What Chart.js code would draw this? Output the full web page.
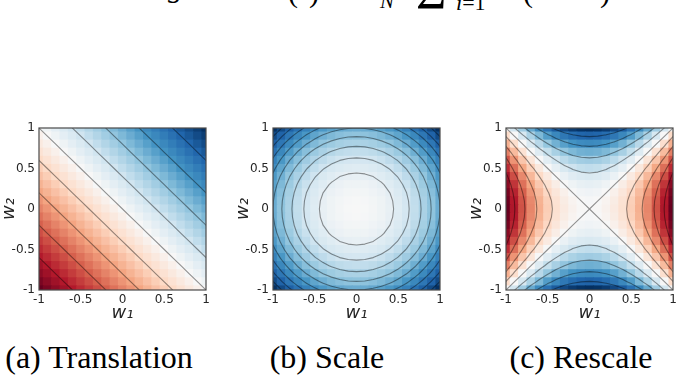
<!DOCTYPE html>
<html>
<head>
<meta charset="utf-8">
<script src="https://cdn.jsdelivr.net/npm/chart.js@4.4.0/dist/chart.umd.min.js"></script>
<style>
  body { margin: 0; width: 681px; height: 375px; overflow: hidden; background: #fff; position: relative; font-family: "Liberation Serif", serif; }
  .panel { position: absolute; top: 112px; width: 214px; height: 213px; }
  .cap { position: absolute; top: 341px; font-size: 32px; line-height: 1; white-space: nowrap; transform: translateX(-50%); color: #000; font-family: "Liberation Serif", serif; }
  .eq { position: absolute; white-space: nowrap; line-height: 1; color: #000; }
</style>
</head>
<body>
<!-- bottom of the equation that is cut by the top edge -->
<span class="eq" style="left:168px; top:-28px; font-size:30px; font-style:italic">g</span>
<span class="eq" style="left:288px; top:-23px; font-size:30px">(</span>
<span class="eq" style="left:309px; top:-23px; font-size:30px">)</span>
<span class="eq" style="left:380px; top:-9px; font-size:21px; font-style:italic">N</span>
<span class="eq" style="left:416px; top:-34px; font-size:52px">Σ</span>
<span class="eq" style="left:456px; top:-8px; font-size:22px"><i>i</i>=1</span>
<span class="eq" style="left:523px; top:-23px; font-size:30px">(</span>
<span class="eq" style="left:600px; top:-23px; font-size:30px">)</span>

<canvas id="chartA" class="panel" style="left:0px"></canvas>
<canvas id="chartB" class="panel" style="left:234px"></canvas>
<canvas id="chartC" class="panel" style="left:467px"></canvas>

<div id="capA" class="cap" style="left:99px"></div>
<div id="capB" class="cap" style="left:327px"></div>
<div id="capC" class="cap" style="left:581px"></div>

<script>
// axis ticks and grid nodes
const axisTicks = [-1, -0.5, 0, 0.5, 1];
const gridW1 = [-1, -0.9, -0.8, -0.7, -0.6, -0.5, -0.4, -0.3, -0.2, -0.1, 0, 0.1, 0.2, 0.3, 0.4, 0.5, 0.6, 0.7, 0.8, 0.9, 1];
const gridW2 = [1, 0.9, 0.8, 0.7, 0.6, 0.5, 0.4, 0.3, 0.2, 0.1, 0, -0.1, -0.2, -0.3, -0.4, -0.5, -0.6, -0.7, -0.8, -0.9, -1];

const captions = ["(a) Translation", "(b) Scale", "(c) Rescale"];

// (a) Translation surface, rows from w2 = 1 down to w2 = -1
const translationGrid = [
  [0,.1,.2,.3,.4,.5,.6,.7,.8,.9,1,1.1,1.2,1.3,1.4,1.5,1.6,1.7,1.8,1.9,2],
  [-.1,0,.1,.2,.3,.4,.5,.6,.7,.8,.9,1,1.1,1.2,1.3,1.4,1.5,1.6,1.7,1.8,1.9],
  [-.2,-.1,0,.1,.2,.3,.4,.5,.6,.7,.8,.9,1,1.1,1.2,1.3,1.4,1.5,1.6,1.7,1.8],
  [-.3,-.2,-.1,0,.1,.2,.3,.4,.5,.6,.7,.8,.9,1,1.1,1.2,1.3,1.4,1.5,1.6,1.7],
  [-.4,-.3,-.2,-.1,0,.1,.2,.3,.4,.5,.6,.7,.8,.9,1,1.1,1.2,1.3,1.4,1.5,1.6],
  [-.5,-.4,-.3,-.2,-.1,0,.1,.2,.3,.4,.5,.6,.7,.8,.9,1,1.1,1.2,1.3,1.4,1.5],
  [-.6,-.5,-.4,-.3,-.2,-.1,0,.1,.2,.3,.4,.5,.6,.7,.8,.9,1,1.1,1.2,1.3,1.4],
  [-.7,-.6,-.5,-.4,-.3,-.2,-.1,0,.1,.2,.3,.4,.5,.6,.7,.8,.9,1,1.1,1.2,1.3],
  [-.8,-.7,-.6,-.5,-.4,-.3,-.2,-.1,0,.1,.2,.3,.4,.5,.6,.7,.8,.9,1,1.1,1.2],
  [-.9,-.8,-.7,-.6,-.5,-.4,-.3,-.2,-.1,0,.1,.2,.3,.4,.5,.6,.7,.8,.9,1,1.1],
  [-1,-.9,-.8,-.7,-.6,-.5,-.4,-.3,-.2,-.1,0,.1,.2,.3,.4,.5,.6,.7,.8,.9,1],
  [-1.1,-1,-.9,-.8,-.7,-.6,-.5,-.4,-.3,-.2,-.1,0,.1,.2,.3,.4,.5,.6,.7,.8,.9],
  [-1.2,-1.1,-1,-.9,-.8,-.7,-.6,-.5,-.4,-.3,-.2,-.1,0,.1,.2,.3,.4,.5,.6,.7,.8],
  [-1.3,-1.2,-1.1,-1,-.9,-.8,-.7,-.6,-.5,-.4,-.3,-.2,-.1,0,.1,.2,.3,.4,.5,.6,.7],
  [-1.4,-1.3,-1.2,-1.1,-1,-.9,-.8,-.7,-.6,-.5,-.4,-.3,-.2,-.1,0,.1,.2,.3,.4,.5,.6],
  [-1.5,-1.4,-1.3,-1.2,-1.1,-1,-.9,-.8,-.7,-.6,-.5,-.4,-.3,-.2,-.1,0,.1,.2,.3,.4,.5],
  [-1.6,-1.5,-1.4,-1.3,-1.2,-1.1,-1,-.9,-.8,-.7,-.6,-.5,-.4,-.3,-.2,-.1,0,.1,.2,.3,.4],
  [-1.7,-1.6,-1.5,-1.4,-1.3,-1.2,-1.1,-1,-.9,-.8,-.7,-.6,-.5,-.4,-.3,-.2,-.1,0,.1,.2,.3],
  [-1.8,-1.7,-1.6,-1.5,-1.4,-1.3,-1.2,-1.1,-1,-.9,-.8,-.7,-.6,-.5,-.4,-.3,-.2,-.1,0,.1,.2],
  [-1.9,-1.8,-1.7,-1.6,-1.5,-1.4,-1.3,-1.2,-1.1,-1,-.9,-.8,-.7,-.6,-.5,-.4,-.3,-.2,-.1,0,.1],
  [-2,-1.9,-1.8,-1.7,-1.6,-1.5,-1.4,-1.3,-1.2,-1.1,-1,-.9,-.8,-.7,-.6,-.5,-.4,-.3,-.2,-.1,0]
];

// (b) Scale surface
const scaleGrid = [
  [2,1.81,1.64,1.49,1.36,1.25,1.16,1.09,1.04,1.01,1,1.01,1.04,1.09,1.16,1.25,1.36,1.49,1.64,1.81,2],
  [1.81,1.62,1.45,1.3,1.17,1.06,.97,.9,.85,.82,.81,.82,.85,.9,.97,1.06,1.17,1.3,1.45,1.62,1.81],
  [1.64,1.45,1.28,1.13,1,.89,.8,.73,.68,.65,.64,.65,.68,.73,.8,.89,1,1.13,1.28,1.45,1.64],
  [1.49,1.3,1.13,.98,.85,.74,.65,.58,.53,.5,.49,.5,.53,.58,.65,.74,.85,.98,1.13,1.3,1.49],
  [1.36,1.17,1,.85,.72,.61,.52,.45,.4,.37,.36,.37,.4,.45,.52,.61,.72,.85,1,1.17,1.36],
  [1.25,1.06,.89,.74,.61,.5,.41,.34,.29,.26,.25,.26,.29,.34,.41,.5,.61,.74,.89,1.06,1.25],
  [1.16,.97,.8,.65,.52,.41,.32,.25,.2,.17,.16,.17,.2,.25,.32,.41,.52,.65,.8,.97,1.16],
  [1.09,.9,.73,.58,.45,.34,.25,.18,.13,.1,.09,.1,.13,.18,.25,.34,.45,.58,.73,.9,1.09],
  [1.04,.85,.68,.53,.4,.29,.2,.13,.08,.05,.04,.05,.08,.13,.2,.29,.4,.53,.68,.85,1.04],
  [1.01,.82,.65,.5,.37,.26,.17,.1,.05,.02,.01,.02,.05,.1,.17,.26,.37,.5,.65,.82,1.01],
  [1,.81,.64,.49,.36,.25,.16,.09,.04,.01,0,.01,.04,.09,.16,.25,.36,.49,.64,.81,1],
  [1.01,.82,.65,.5,.37,.26,.17,.1,.05,.02,.01,.02,.05,.1,.17,.26,.37,.5,.65,.82,1.01],
  [1.04,.85,.68,.53,.4,.29,.2,.13,.08,.05,.04,.05,.08,.13,.2,.29,.4,.53,.68,.85,1.04],
  [1.09,.9,.73,.58,.45,.34,.25,.18,.13,.1,.09,.1,.13,.18,.25,.34,.45,.58,.73,.9,1.09],
  [1.16,.97,.8,.65,.52,.41,.32,.25,.2,.17,.16,.17,.2,.25,.32,.41,.52,.65,.8,.97,1.16],
  [1.25,1.06,.89,.74,.61,.5,.41,.34,.29,.26,.25,.26,.29,.34,.41,.5,.61,.74,.89,1.06,1.25],
  [1.36,1.17,1,.85,.72,.61,.52,.45,.4,.37,.36,.37,.4,.45,.52,.61,.72,.85,1,1.17,1.36],
  [1.49,1.3,1.13,.98,.85,.74,.65,.58,.53,.5,.49,.5,.53,.58,.65,.74,.85,.98,1.13,1.3,1.49],
  [1.64,1.45,1.28,1.13,1,.89,.8,.73,.68,.65,.64,.65,.68,.73,.8,.89,1,1.13,1.28,1.45,1.64],
  [1.81,1.62,1.45,1.3,1.17,1.06,.97,.9,.85,.82,.81,.82,.85,.9,.97,1.06,1.17,1.3,1.45,1.62,1.81],
  [2,1.81,1.64,1.49,1.36,1.25,1.16,1.09,1.04,1.01,1,1.01,1.04,1.09,1.16,1.25,1.36,1.49,1.64,1.81,2]
];

// (c) Rescale surface (saddle)
const rescaleGrid = [
  [0,.19,.36,.51,.64,.75,.84,.91,.96,.99,1,.99,.96,.91,.84,.75,.64,.51,.36,.19,0],
  [-.19,0,.17,.32,.45,.56,.65,.72,.77,.8,.81,.8,.77,.72,.65,.56,.45,.32,.17,0,-.19],
  [-.36,-.17,0,.15,.28,.39,.48,.55,.6,.63,.64,.63,.6,.55,.48,.39,.28,.15,0,-.17,-.36],
  [-.51,-.32,-.15,0,.13,.24,.33,.4,.45,.48,.49,.48,.45,.4,.33,.24,.13,0,-.15,-.32,-.51],
  [-.64,-.45,-.28,-.13,0,.11,.2,.27,.32,.35,.36,.35,.32,.27,.2,.11,0,-.13,-.28,-.45,-.64],
  [-.75,-.56,-.39,-.24,-.11,0,.09,.16,.21,.24,.25,.24,.21,.16,.09,0,-.11,-.24,-.39,-.56,-.75],
  [-.84,-.65,-.48,-.33,-.2,-.09,0,.07,.12,.15,.16,.15,.12,.07,0,-.09,-.2,-.33,-.48,-.65,-.84],
  [-.91,-.72,-.55,-.4,-.27,-.16,-.07,0,.05,.08,.09,.08,.05,0,-.07,-.16,-.27,-.4,-.55,-.72,-.91],
  [-.96,-.77,-.6,-.45,-.32,-.21,-.12,-.05,0,.03,.04,.03,0,-.05,-.12,-.21,-.32,-.45,-.6,-.77,-.96],
  [-.99,-.8,-.63,-.48,-.35,-.24,-.15,-.08,-.03,0,.01,0,-.03,-.08,-.15,-.24,-.35,-.48,-.63,-.8,-.99],
  [-1,-.81,-.64,-.49,-.36,-.25,-.16,-.09,-.04,-.01,0,-.01,-.04,-.09,-.16,-.25,-.36,-.49,-.64,-.81,-1],
  [-.99,-.8,-.63,-.48,-.35,-.24,-.15,-.08,-.03,0,.01,0,-.03,-.08,-.15,-.24,-.35,-.48,-.63,-.8,-.99],
  [-.96,-.77,-.6,-.45,-.32,-.21,-.12,-.05,0,.03,.04,.03,0,-.05,-.12,-.21,-.32,-.45,-.6,-.77,-.96],
  [-.91,-.72,-.55,-.4,-.27,-.16,-.07,0,.05,.08,.09,.08,.05,0,-.07,-.16,-.27,-.4,-.55,-.72,-.91],
  [-.84,-.65,-.48,-.33,-.2,-.09,0,.07,.12,.15,.16,.15,.12,.07,0,-.09,-.2,-.33,-.48,-.65,-.84],
  [-.75,-.56,-.39,-.24,-.11,0,.09,.16,.21,.24,.25,.24,.21,.16,.09,0,-.11,-.24,-.39,-.56,-.75],
  [-.64,-.45,-.28,-.13,0,.11,.2,.27,.32,.35,.36,.35,.32,.27,.2,.11,0,-.13,-.28,-.45,-.64],
  [-.51,-.32,-.15,0,.13,.24,.33,.4,.45,.48,.49,.48,.45,.4,.33,.24,.13,0,-.15,-.32,-.51],
  [-.36,-.17,0,.15,.28,.39,.48,.55,.6,.63,.64,.63,.6,.55,.48,.39,.28,.15,0,-.17,-.36],
  [-.19,0,.17,.32,.45,.56,.65,.72,.77,.8,.81,.8,.77,.72,.65,.56,.45,.32,.17,0,-.19],
  [0,.19,.36,.51,.64,.75,.84,.91,.96,.99,1,.99,.96,.91,.84,.75,.64,.51,.36,.19,0]
];

// contour levels
const translationLevels = [-1.6, -1.2, -0.8, -0.4, 0, 0.4, 0.8, 1.2, 1.6];
const scaleLevels = [0.2, 0.4, 0.6, 0.8, 1, 1.2, 1.4, 1.6, 1.8];
const rescaleLevels = [-0.8, -0.6, -0.4, -0.2, 0, 0.2, 0.4, 0.6, 0.8];

// colour limits (red = low, blue = high)
const translationRange = [-2, 2];
const scaleRange = [-2, 2];
const rescaleRange = [-1, 1];

// RdBu colormap
const RDBU = [[103,0,31],[178,24,43],[214,96,77],[244,165,130],[253,219,199],[247,247,247],
              [209,229,240],[146,197,222],[67,147,195],[33,102,172],[5,48,97]];

function rdbu(t) {
    t = Math.max(0, Math.min(1, t));
    const p = t * 10;
    const i = Math.min(9, Math.floor(p));
    const f = p - i;
    const a = RDBU[i], b = RDBU[i + 1];
    const c = [0, 1, 2].map(k => Math.round(a[k] + (b[k] - a[k]) * f));
    return "rgb(" + c.join(",") + ")";
}

function cells(grid) {
    const pts = [];
    gridW2.forEach((w2, r) => {
        gridW1.forEach((w1, c) => pts.push({ x: w1, y: w2, v: grid[r][c] }));
    });
    return pts;
}

// marching squares over the grid above
function contourSegments(grid, levels) {
    const out = [];
    const n = gridW1.length;
    const gap = () => ({ x: null, y: null });
    levels.forEach(lv => {
        for (let r = 0; r < n - 1; r++) {
            for (let c = 0; c < n - 1; c++) {
                const P = [
                    [gridW1[c], gridW2[r], grid[r][c]],
                    [gridW1[c + 1], gridW2[r], grid[r][c + 1]],
                    [gridW1[c + 1], gridW2[r + 1], grid[r + 1][c + 1]],
                    [gridW1[c], gridW2[r + 1], grid[r + 1][c]]
                ];
                const pts = [];
                for (let k = 0; k < 4; k++) {
                    const a = P[k], b = P[(k + 1) % 4];
                    if ((a[2] >= lv) !== (b[2] >= lv)) {
                        const t = (lv - a[2]) / (b[2] - a[2]);
                        pts.push({ x: a[0] + t * (b[0] - a[0]), y: a[1] + t * (b[1] - a[1]) });
                    }
                }
                if (pts.length === 2) {
                    if (pts[0].x !== pts[1].x || pts[0].y !== pts[1].y) out.push(pts[0], pts[1], gap());
                } else if (pts.length === 4) {
                    const mid = (P[0][2] + P[1][2] + P[2][2] + P[3][2]) / 4;
                    if ((mid >= lv) === (P[0][2] >= lv)) {
                        out.push(pts[0], pts[1], gap(), pts[2], pts[3], gap());
                    } else {
                        out.push(pts[3], pts[0], gap(), pts[1], pts[2], gap());
                    }
                }
            }
        }
    });
    return out;
}

const framePlugin = {
    id: "frame",
    afterDatasetsDraw(chart) {
        const a = chart.chartArea;
        const ctx = chart.ctx;
        ctx.save();
        ctx.strokeStyle = "#4a4a4a";
        ctx.lineWidth = 1.2;
        ctx.strokeRect(a.left, a.top, a.right - a.left, a.bottom - a.top);
        ctx.restore();
    }
};

const tickFont = { family: "DejaVu Sans", size: 12 };
const titleFont = { family: "DejaVu Sans", size: 18, style: "italic", lineHeight: 1 };

function createChart(id, grid, levels, range) {
    const ctx = document.getElementById(id).getContext("2d");
    return new Chart(ctx, {
        type: "scatter",
        data: {
            datasets: [
                {
                    data: contourSegments(grid, levels),
                    showLine: true,
                    spanGaps: false,
                    borderColor: "rgba(0,0,0,0.42)",
                    borderWidth: 1.1,
                    borderJoinStyle: "round",
                    borderCapStyle: "round",
                    borderDash: [400, 1],
                    pointRadius: 0,
                    clip: 0,
                    order: 0,
                },
                {
                    data: cells(grid),
                    pointStyle: "rect",
                    pointBorderWidth: 0,
                    borderWidth: 0,
                    backgroundColor: (c) => c.raw ? rdbu((c.raw.v - range[0]) / (range[1] - range[0])) : "#fff",
                    pointRadius: (c) => {
                        const a = c.chart.chartArea;
                        if (!a) return 0;
                        const side = Math.max(a.width, a.height) / (gridW1.length - 1) + 0.8;
                        return side / Math.SQRT2;
                    },
                    clip: 0,
                    order: 1,
                },
            ],
        },
        options: {
            responsive: false,
            animation: false,
            events: [],
            layout: { padding: { left: 0, right: 8, top: 16, bottom: 0 } },
            scales: {
                x: {
                    type: "linear",
                    min: -1,
                    max: 1,
                    afterBuildTicks: (s) => { s.ticks = axisTicks.map(v => ({ value: v })); },
                    afterFit: (s) => { s.height = 35; },
                    ticks: { font: tickFont, color: "#262626", padding: 3, maxRotation: 0, callback: (v) => String(v) },
                    grid: { display: false, drawTicks: false },
                    border: { display: false },
                    title: { display: true, text: "w₁", font: titleFont, color: "#262626", padding: { top: 0, bottom: 3 } },
                },
                y: {
                    type: "linear",
                    min: -1,
                    max: 1,
                    afterBuildTicks: (s) => { s.ticks = axisTicks.map(v => ({ value: v })); },
                    afterFit: (s) => { s.width = 39; },
                    ticks: { font: tickFont, color: "#262626", padding: 4, callback: (v) => String(v) },
                    grid: { display: false, drawTicks: false },
                    border: { display: false },
                    title: { display: true, text: "w₂", font: titleFont, color: "#262626", padding: { top: 0, bottom: 0 } },
                },
            },
            plugins: {
                legend: { display: false },
                tooltip: { enabled: false },
            },
        },
        plugins: [framePlugin],
    });
}

function sizeCanvas(id) {
    const el = document.getElementById(id);
    el.width = 214;
    el.height = 213;
}

["chartA", "chartB", "chartC"].forEach(sizeCanvas);

createChart("chartA", translationGrid, translationLevels, translationRange);
createChart("chartB", scaleGrid, scaleLevels, scaleRange);
createChart("chartC", rescaleGrid, rescaleLevels, rescaleRange);

document.getElementById("capA").textContent = captions[0];
document.getElementById("capB").textContent = captions[1];
document.getElementById("capC").textContent = captions[2];
</script>
</body>
</html>
